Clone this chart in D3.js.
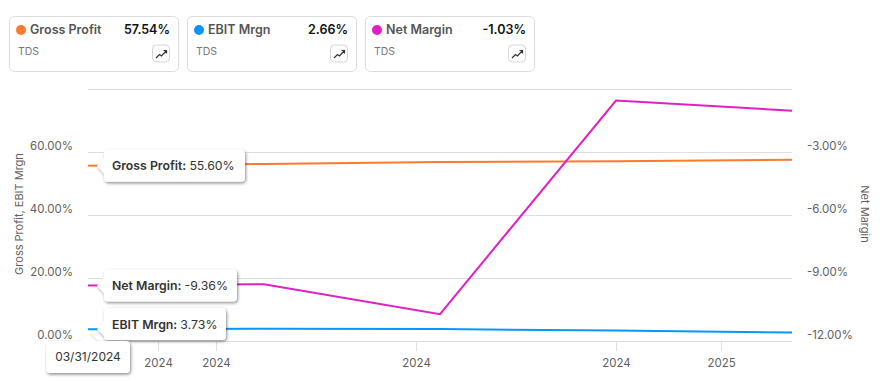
<!DOCTYPE html>
<html><head><meta charset="utf-8">
<style>html,body{margin:0;padding:0;background:#fff}svg{display:block}text{font-family:Inter,"Liberation Sans",sans-serif}</style>
<script src="https://cdn.jsdelivr.net/npm/d3@7/dist/d3.min.js"></script>
</head><body><svg id="c" width="888" height="381"></svg>
<script>
const dates = ["03/31/2024","06/30/2024","09/30/2024","12/31/2024","03/31/2025"];
const grossProfit = [55.60,56.2,56.8,57.1,57.54];
const ebitMargin = [3.73,3.9,3.8,3.3,2.66];
const netMargin = [-9.36,-9.3,-10.72,-0.55,-1.03];
const leftTicks = [0,20,40,60,80];
const rightTicks = [-12,-9,-6,-3,0];
const xTickPositions = [0.398,0.727,1.864,3,3.597];
const xTickLabels = ["2024","2024","2024","2024","2025"];
const cards = [
 {name:"Gross Profit",value:"57.54%",color:"#ff7a2f",ticker:"TDS"},
 {name:"EBIT Mrgn",value:"2.66%",color:"#0a96f6",ticker:"TDS"},
 {name:"Net Margin",value:"-1.03%",color:"#e01fc4",ticker:"TDS"}
];
const svg = d3.select("#c");
const x = d3.scaleLinear().domain([0,dates.length-1]).range([88,792]);
const yL = d3.scaleLinear().domain([0,80]).range([341,89]);
const yR = d3.scaleLinear().domain([-12,0]).range([341,89]);
const pct=d=>d.toFixed(2)+"%";

const defs = svg.append("defs");
const f = defs.append("filter").attr("id","sh").attr("x","-20%").attr("y","-30%").attr("width","140%").attr("height","170%");
f.append("feDropShadow").attr("dx",1).attr("dy",1.5).attr("stdDeviation",1.6).attr("flood-color","#000").attr("flood-opacity",0.45);

// cards
const cw=169, ch=55, cx=[9,187,365];
cards.forEach((c,i)=>{
  const g=svg.append("g").attr("transform",`translate(${cx[i]},16)`);
  g.append("rect").attr("x",.5).attr("y",.5).attr("width",cw).attr("height",ch).attr("rx",5).attr("fill","#fff").attr("stroke","#dcdcdc");
  g.append("circle").attr("cx",12).attr("cy",14).attr("r",5).attr("fill",c.color);
  g.append("text").attr("x",21).attr("y",18).attr("font-size",12.5).attr("font-weight",600).attr("fill","#555").text(c.name);
  g.append("text").attr("x",161).attr("y",18).attr("text-anchor","end").attr("font-size",12.5).attr("font-weight",600).attr("fill","#111").text(c.value);
  g.append("text").attr("x",9).attr("y",39).attr("font-size",10.5).attr("fill","#777").text(c.ticker);
  g.append("rect").attr("x",143.5).attr("y",29).attr("width",17).attr("height",17).attr("rx",4).attr("fill","#fff").attr("stroke","#d5d5d5");
  g.append("path").attr("d","M147 42 L150.5 38.5 L152.5 40 L157.5 34.5 M154.5 34.5 H157.5 V37.5").attr("fill","none").attr("stroke","#333").attr("stroke-width",1.2);
});

// axes
const gridC="#dedede", txt="#5f5f5f";
const gx=svg.append("g").attr("transform","translate(0,341)")
  .call(d3.axisBottom(x).tickValues(xTickPositions).tickSize(10).tickPadding(8).tickFormat((d,i)=>xTickLabels[i]));
gx.select(".domain").attr("stroke",gridC).attr("d","M88,0.5H792");
gx.selectAll("line").attr("stroke",gridC);
gx.selectAll("text").attr("font-size",11.5).attr("fill",txt).attr("font-family","Inter");

const gl=svg.append("g").attr("transform","translate(88,0)")
  .call(d3.axisLeft(yL).tickValues(leftTicks.slice(0,4)).tickSize(0).tickPadding(15).tickFormat(pct));
gl.select(".domain").remove();
gl.selectAll("text").attr("font-size",11.5).attr("fill",txt).attr("dy",-2.5).attr("font-family","Inter");
const gr=svg.append("g").attr("transform","translate(792,0)")
  .call(d3.axisRight(yR).tickValues(rightTicks.slice(0,4)).tickSize(0).tickPadding(15).tickFormat(pct));
gr.select(".domain").remove();
gr.selectAll("text").attr("font-size",11.5).attr("fill",txt).attr("dy",-2.5).attr("font-family","Inter");

svg.append("g").selectAll("line").data(leftTicks.slice(1)).join("line")
  .attr("x1",88).attr("x2",792).attr("y1",d=>Math.round(yL(d))+.5).attr("y2",d=>Math.round(yL(d))+.5).attr("stroke",gridC);

svg.append("text").attr("transform","translate(23,214) rotate(-90)").attr("text-anchor","middle").attr("font-size",11).attr("fill",txt).text("Gross Profit, EBIT Mrgn");
svg.append("text").attr("transform","translate(861,214) rotate(90)").attr("text-anchor","middle").attr("font-size",11).attr("fill",txt).text("Net Margin");

// lines
const series=[[grossProfit,yL,cards[0].color],[ebitMargin,yL,cards[1].color],[netMargin,yR,cards[2].color]];
series.forEach(([v,y,col])=>{
  svg.append("path").attr("fill","none").attr("stroke",col).attr("stroke-width",2)
   .attr("d",d3.line().x((d,i)=>x(i)).y(d=>y(d))(v));
});

// tooltips
function tip(label,val,y,w,boxY){
  const X=x(0);
  const top=boxY-16,l=X+16,r=l+w,b=top+32,c=4;
  const py1=Math.max(y-8,top+c), py2=Math.min(y+8,b-c);
  const g=svg.append("g");
  g.append("path").attr("d",`M${l+c},${top}H${r-c}Q${r},${top} ${r},${top+c}V${b-c}Q${r},${b} ${r-c},${b}H${l+c}Q${l},${b} ${l},${b-c}V${py2}L${l-7},${y}L${l},${py1}V${top+c}Q${l},${top} ${l+c},${top}Z`)
    .attr("fill","#fff").attr("filter","url(#sh)");
  const t=g.append("text").attr("x",l+8).attr("y",boxY+4.5).attr("font-size",12.3).attr("fill","#333");
  t.append("tspan").attr("font-weight",600).text(label+": ");
  t.append("tspan").text(val);
}
tip("Gross Profit",pct(grossProfit[0]),yL(grossProfit[0]),141,yL(grossProfit[0]));
tip("EBIT Mrgn",pct(ebitMargin[0]),yL(ebitMargin[0]),122,324);
tip("Net Margin",pct(netMargin[0]),yR(netMargin[0]),133,yR(netMargin[0]));
// date tip
(function(){
 const X=x(0),top=341,b=373,l=46,r=130,c=4;
 const g=svg.append("g");
 g.append("path").attr("d",`M${l+c},${top}H${X-8}L${X},${top-7}L${X+8},${top}H${r-c}Q${r},${top} ${r},${top+c}V${b-c}Q${r},${b} ${r-c},${b}H${l+c}Q${l},${b} ${l},${b-c}V${top+c}Q${l},${top} ${l+c},${top}Z`)
  .attr("fill","#fff").attr("filter","url(#sh)");
 g.append("text").attr("x",(l+r)/2).attr("y",361).attr("text-anchor","middle").attr("font-size",12).attr("fill","#333").text(dates[0]);
})();
</script></body></html>
